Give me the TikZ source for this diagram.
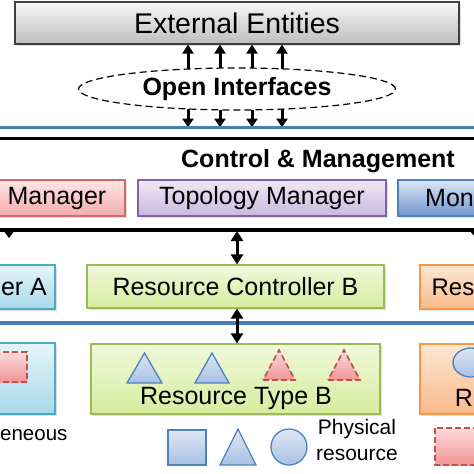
\documentclass[tikz,border=0pt]{standalone}
\usepackage{fontspec}
\setmainfont{Liberation Sans}
\usetikzlibrary{shapes.geometric,arrows.meta,shadows,calc}
\definecolor{extT}{HTML}{F7F7F7}
\definecolor{extB}{HTML}{BDBDBD}
\definecolor{extD}{HTML}{3F3F3F}
\definecolor{pinkT}{HTML}{FDE6E6}
\definecolor{pinkB}{HTML}{F5ABAB}
\definecolor{pinkD}{HTML}{D2686A}
\definecolor{purT}{HTML}{EFE8F6}
\definecolor{purB}{HTML}{C9B8E0}
\definecolor{purD}{HTML}{8064A2}
\definecolor{monT}{HTML}{DCE6F4}
\definecolor{monB}{HTML}{6F96D0}
\definecolor{monD}{HTML}{4F81BD}
\definecolor{cyaT}{HTML}{E4F4F9}
\definecolor{cyaB}{HTML}{A9D9E9}
\definecolor{cyaD}{HTML}{4BACC6}
\definecolor{grnT}{HTML}{F0F8DA}
\definecolor{grnB}{HTML}{D6EC9E}
\definecolor{grnD}{HTML}{9BBB59}
\definecolor{orgT}{HTML}{FDE7D3}
\definecolor{orgB}{HTML}{F9B98A}
\definecolor{orgD}{HTML}{F79646}
\definecolor{shpT}{HTML}{DDE7F4}
\definecolor{shpB}{HTML}{A8C0E4}
\definecolor{shpD}{HTML}{4F81BD}
\definecolor{rdT}{HTML}{FCDADA}
\definecolor{rdB}{HTML}{F29595}
\definecolor{rdD}{HTML}{C0504D}
\definecolor{lineblue}{HTML}{4A7EBB}
\begin{document}
\begin{tikzpicture}[x=1pt,y=-1pt,
  box/.style={draw, line width=1.2pt, rectangle, inner sep=0pt,
    drop shadow={opacity=0.25,shadow xshift=1.5pt,shadow yshift=-1.5pt}},
  extbox/.style={box, draw=extD, top color=extT, bottom color=extB},
  pinkbox/.style={box, draw=pinkD, top color=pinkT, bottom color=pinkB},
  purbox/.style={box, draw=purD, top color=purT, bottom color=purB},
  monbox/.style={box, draw=monD, top color=monT, bottom color=monB},
  cyabox/.style={box, draw=cyaD, top color=cyaT, bottom color=cyaB},
  grnbox/.style={box, draw=grnD, top color=grnT, bottom color=grnB},
  orgbox/.style={box, draw=orgD, top color=orgT, bottom color=orgB},
  shp/.style={draw=shpD, line width=1.3pt, top color=shpT, bottom color=shpB},
  rdshp/.style={draw=rdD, line width=1.6pt, dash pattern=on 6pt off 3pt, top color=rdT, bottom color=rdB},
  txt/.style={font=\fontsize{25}{30}\selectfont, text=black},
  btxt/.style={font=\bfseries\fontsize{25}{30}\selectfont, text=black},
  arr/.style={line width=3pt, -{Triangle[width=11pt,length=9pt]}},
  darr/.style={line width=3pt, {Triangle[width=12pt,length=10pt]}-{Triangle[width=12pt,length=10pt]}},
]
\useasboundingbox (0,0) rectangle (474,474);
\clip (0,0) rectangle (474,474);
\fill[white] (0,0) rectangle (474,474);

% External entities
\node[extbox, minimum width=444pt, minimum height=42pt, font=\fontsize{28.5}{32}\selectfont] (ext) at (237,23) {External Entities};

% Open interfaces
\node[draw, ellipse, line width=1.2pt, dash pattern=on 7pt off 4pt, minimum width=317pt, minimum height=42pt, inner sep=0pt, btxt] (oi) at (237,89) {Open Interfaces};

\coordinate (u1) at (188,69);
\coordinate (u2) at (220,68);
\coordinate (u3) at (252,68);
\coordinate (u4) at (282,69);
\coordinate (d1) at (188,109);
\coordinate (d2) at (220,110);
\coordinate (d3) at (252,110);
\coordinate (d4) at (282,109);
\coordinate (bl) at (0,127.5);

\foreach \p in {u1,u2,u3,u4} \draw[arr] (\p) -- (\p |- ext.south);
\foreach \p in {d1,d2,d3,d4} \draw[arr] (\p) -- (\p |- bl);

% lines
\draw[lineblue, line width=3pt] (bl) -- (474,127.5);
\draw[black, line width=3.5pt] (0,138.5) -- (474,138.5);

\node[btxt] (cm) at (318,161) {Control \& Management};

% managers
\node[pinkbox, minimum width=136pt, minimum height=36pt, txt] (pm) at (57,198) {Manager};
\node[purbox, minimum width=248pt, minimum height=36pt, txt] (tm) at (262,198) {Topology Manager};
\node[monbox, minimum width=103pt, minimum height=36pt, txt] (mm) at (449.5,198) {Mon};

% bar
\coordinate (barL) at (0,229.5);
\coordinate (barc) at (237,231);
\draw[black, line width=4pt] (barL) -- (474,229.5);
\fill[black] (3,230) -- (15,230) -- (9,238) -- cycle;
\fill[black] (469,230) -- (481,230) -- (475,237) -- cycle;

% controllers
\node[cyabox, minimum width=62pt, minimum height=44pt, txt] (rcA) at (24,287) {er A};
\node[grnbox, minimum width=297pt, minimum height=43pt, txt] (rcB) at (235.5,286.5) {Resource Controller B};
\node[orgbox, minimum width=66pt, minimum height=44pt, font=\fontsize{24}{30}\selectfont] (rcC) at (453,287) {Res};

\draw[darr] (barc) -- (barc |- rcB.north);

% blue line 2
\draw[lineblue, line width=4pt] (0,322.5) -- (474,322.5);

% resource types
\node[cyabox, minimum width=85pt, minimum height=71pt] (tyA) at (12.5,378.5) {};
\node[grnbox, minimum width=289pt, minimum height=70pt] (tyB) at (235.5,379) {};
\node[orgbox, minimum width=80pt, minimum height=70pt] (tyC) at (460,379) {};

\draw[darr] (barc |- rcB.south) -- (barc |- tyB.north);

% shapes in type A
\draw[rdshp] (-12,352) rectangle (27,382);
% shapes in type B
\draw[shp] (127,383) -- (162,383) -- (144.5,353) -- cycle;
\draw[shp] (195,383) -- (229,383) -- (212,353) -- cycle;
\draw[rdshp] (263,380) -- (295,380) -- (279,350) -- cycle;
\draw[rdshp] (328,380) -- (360,380) -- (344,350) -- cycle;
\node[txt] (tyBl) at (236,398) {Resource Type B};
% shapes in type C
\draw[shp] (471,362.5) ellipse [x radius=18, y radius=14.5];
\node[txt] (tyCl) at (464,398) {R};

% captions
\node[anchor=west, inner sep=0pt, font=\fontsize{20.5}{24}\selectfont] (het) at (0,435) {eneous};

% legend
\draw[shp] (168,430) rectangle (206,465);
\draw[shp] (220,465) -- (256,465) -- (238,429) -- cycle;
\draw[shp] (289,447) circle [radius=18];
\node[align=center, inner sep=0pt, font=\fontsize{21}{26}\selectfont] (phys) at (357,440) {Physical\\resource};
\draw[rdshp] (435,428) rectangle (492,465);
\end{tikzpicture}
\end{document}
